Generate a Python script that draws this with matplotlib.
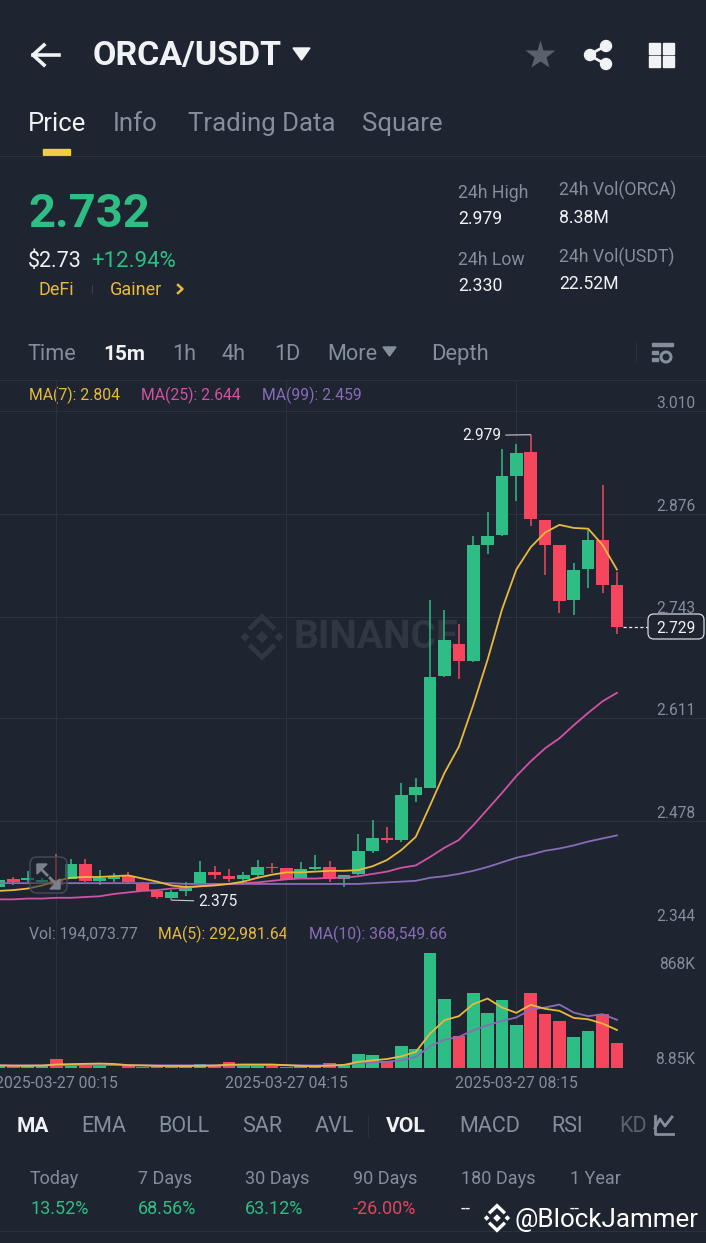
import numpy as np
import matplotlib
matplotlib.use('Agg')
import matplotlib.pyplot as plt
from matplotlib.patches import FancyBboxPatch, Rectangle, Circle

# candles, 15m
opens = [2.392, 2.402, 2.401, 2.399, 2.401, 2.403, 2.422, 2.400, 2.403, 2.406, 2.397, 2.387, 2.378, 2.387, 2.396,
         2.411, 2.406, 2.402, 2.407, 2.418, 2.417, 2.404, 2.415, 2.418, 2.403, 2.409, 2.439, 2.456, 2.453, 2.512,
         2.521, 2.666, 2.707, 2.685, 2.836, 2.849, 2.925, 2.956, 2.868, 2.836, 2.765, 2.805, 2.843, 2.784]
closes = [2.401, 2.398, 2.404, 2.401, 2.394, 2.422, 2.400, 2.404, 2.405, 2.398, 2.387, 2.379, 2.385, 2.393, 2.411,
          2.407, 2.402, 2.408, 2.418, 2.417, 2.403, 2.416, 2.418, 2.403, 2.407, 2.439, 2.455, 2.453, 2.511, 2.522,
          2.665, 2.713, 2.685, 2.836, 2.848, 2.926, 2.955, 2.870, 2.836, 2.763, 2.804, 2.842, 2.784, 2.729]
highs = [2.403, 2.405, 2.413, 2.404, 2.435, 2.429, 2.429, 2.414, 2.410, 2.412, 2.398, 2.388, 2.388, 2.399, 2.426,
         2.419, 2.415, 2.411, 2.427, 2.423, 2.417, 2.425, 2.433, 2.426, 2.408, 2.461, 2.479, 2.470, 2.527, 2.533,
         2.765, 2.752, 2.733, 2.848, 2.879, 2.961, 2.967, 2.979, 2.868, 2.836, 2.812, 2.855, 2.914, 2.801]
lows = [2.391, 2.394, 2.399, 2.397, 2.392, 2.402, 2.399, 2.394, 2.399, 2.397, 2.387, 2.376, 2.375, 2.380, 2.396,
        2.403, 2.399, 2.394, 2.405, 2.410, 2.401, 2.403, 2.414, 2.398, 2.392, 2.407, 2.436, 2.449, 2.451, 2.502,
        2.520, 2.665, 2.662, 2.684, 2.824, 2.847, 2.893, 2.861, 2.797, 2.748, 2.745, 2.780, 2.773, 2.721]
ma7 = [2.387, 2.388, 2.390, 2.394, 2.400, 2.404, 2.405, 2.405, 2.406, 2.407, 2.403, 2.399, 2.394, 2.392, 2.393,
       2.394, 2.396, 2.399, 2.404, 2.408, 2.411, 2.411, 2.412, 2.413, 2.413, 2.414, 2.419, 2.427, 2.440, 2.457,
       2.498, 2.540, 2.574, 2.628, 2.687, 2.752, 2.804, 2.833, 2.852, 2.862, 2.858, 2.857, 2.836, 2.804]
ma25 = [2.376, 2.376, 2.377, 2.377, 2.378, 2.378, 2.379, 2.380, 2.383, 2.385, 2.387, 2.388, 2.390, 2.391, 2.393,
        2.395, 2.396, 2.397, 2.398, 2.400, 2.402, 2.403, 2.403, 2.404, 2.404, 2.406, 2.409, 2.412, 2.417, 2.420,
        2.431, 2.443, 2.453, 2.472, 2.493, 2.514, 2.536, 2.555, 2.572, 2.585, 2.602, 2.618, 2.633, 2.644]
ma99 = [2.397, 2.397, 2.397, 2.397, 2.397, 2.397, 2.397, 2.397, 2.397, 2.397, 2.397, 2.397, 2.397, 2.396, 2.396,
        2.396, 2.396, 2.396, 2.396, 2.396, 2.396, 2.396, 2.396, 2.396, 2.396, 2.396, 2.397, 2.398, 2.399, 2.400,
        2.404, 2.406, 2.409, 2.413, 2.418, 2.424, 2.430, 2.434, 2.439, 2.442, 2.446, 2.451, 2.455, 2.459]

# volume in thousands
volumes = [29, 21, 24, 34, 74, 29, 31, 29, 12, 34, 16, 26, 16, 26, 41, 34, 51, 31, 31, 31, 14, 21, 21, 49, 34,
           111, 104, 59, 171, 151, 868, 528, 251, 571, 418, 516, 328, 571, 411, 361, 241, 283, 411, 194]
vol_ma5 = [28, 26, 26, 27, 35, 38, 40, 42, 39, 30, 28, 25, 24, 24, 25, 27, 33, 35, 35, 35, 30, 25, 22, 27, 32,
           54, 66, 76, 96, 129, 266, 366, 396, 486, 528, 461, 421, 481, 451, 436, 383, 373, 341, 293]
vol_ma10 = [29, 29, 29, 29, 30, 30, 31, 31, 31, 30, 29, 29, 29, 29, 29, 29, 29, 29, 30, 30, 30, 29, 28, 29, 29,
            46, 51, 56, 66, 91, 171, 221, 241, 291, 328, 361, 386, 446, 461, 483, 423, 396, 411, 369]

price_ticks = [3.010, 2.876, 2.743, 2.611, 2.478, 2.344]
time_ticks = [4, 20, 36]
time_labels = ['2025-03-27 00:15', '2025-03-27 04:15', '2025-03-27 08:15']
last_price = 2.729

BG = '#1e2530'
GRID = '#2b323c'
GRAY = '#848e9c'
WHITE = '#f0f2f5'
GREEN = '#2ebd85'
RED = '#f6465d'
YELLOW = '#e9b93e'
PINK = '#d252a4'
PURPLE = '#8a6bb8'

plt.rcParams['font.family'] = ['Roboto', 'DejaVu Sans']

W, H = 706, 1243
fig = plt.figure(figsize=(W / 100, H / 100), dpi=100, facecolor=BG)


def px_rect(left, top, right, bottom):
    return [left / W, 1 - bottom / H, (right - left) / W, (bottom - top) / H]


ui = fig.add_axes([0, 0, 1, 1], zorder=0)
ui.set_xlim(0, W)
ui.set_ylim(H, 0)
ui.axis('off')

ax = fig.add_axes(px_rect(0, 380, W, 924), zorder=1)
vol_ax = fig.add_axes(px_rect(0, 924, W, 1068), zorder=1, sharex=ax)

x = np.arange(len(closes))
colors = [GREEN if c >= o else RED for o, c in zip(opens, closes)]

for a in (ax, vol_ax):
    a.patch.set_alpha(0)
    a.set_xlim(0.07, 49.2)
    for s in a.spines.values():
        s.set_visible(False)
    a.set_axisbelow(True)

ax.set_ylim(2.344, 3.050)
ax.vlines(x, lows, highs, colors=colors, lw=1.1, zorder=3)
ax.bar(x, np.abs(np.array(closes) - np.array(opens)), bottom=np.minimum(opens, closes), width=0.88,
       color=colors, zorder=3)
ax.plot(x, ma99, color=PURPLE, lw=1.3, zorder=4)
ax.plot(x, ma25, color=PINK, lw=1.3, zorder=4)
ax.plot(x, ma7, color=YELLOW, lw=1.3, zorder=4)

ax.set_yticks(price_ticks)
ax.set_xticks(time_ticks)
ax.tick_params(length=0, labelleft=False, labelbottom=False)
ax.grid(True, color=GRID, lw=0.8)
for p in price_ticks:
    ax.annotate(f'{p:.3f}', xy=(0.985, p), xycoords=ax.get_yaxis_transform(), xytext=(0, 5.5),
                textcoords='offset points', ha='right', va='center', color=GRAY, fontsize=11.2)

# high / low labels
ax.annotate('2.979', xy=(37, max(highs)), xytext=(-21, -0.5), textcoords='offset points', ha='right', va='center',
            color=WHITE, fontsize=11.2, zorder=6,
            arrowprops=dict(arrowstyle='-', color='#c9ccd1', lw=0.8, shrinkA=1, shrinkB=0))
ax.annotate('2.375', xy=(12, min(lows)), xytext=(19, -1), textcoords='offset points', ha='left', va='center',
            color=WHITE, fontsize=11.2, zorder=6,
            arrowprops=dict(arrowstyle='-', color='#c9ccd1', lw=0.8, shrinkA=1, shrinkB=0))

# last price
ax.hlines(last_price, len(x) - 0.56, len(x) + 1.15, colors=WHITE, lw=0.9, linestyles=(0, (2.5, 2)), zorder=5)
ax.add_patch(FancyBboxPatch((648, 614), 56, 25, boxstyle='round,pad=0,rounding_size=6', transform=ui.transData,
                            fc=BG, ec='#d5d8dc', lw=0.9, zorder=7, clip_on=False))
ax.text(676, 628, f'{last_price:.3f}', transform=ui.transData, ha='center', va='center', color=WHITE,
        fontsize=11.2, zorder=8)

# expand button over the candles
ax.add_patch(FancyBboxPatch((30, 857), 37, 36, boxstyle='round,pad=0,rounding_size=7', transform=ui.transData,
                            fc=(0.118, 0.145, 0.188, 0.55), ec='#454c58', lw=1.0, zorder=7, clip_on=False))
ax.plot([38, 47], [866, 875], color='#7a818c', lw=2, transform=ui.transData, zorder=8)
ax.plot([50, 59], [878, 887], color='#7a818c', lw=2, transform=ui.transData, zorder=8)
ax.fill([37, 47, 37], [864, 864, 874], color='#7a818c', transform=ui.transData, zorder=8)
ax.fill([60, 50, 60], [889, 889, 879], color='#7a818c', transform=ui.transData, zorder=8)

# volume pane
vol_ax.set_ylim(8.85, 1085)
vol_ax.bar(x, np.array(volumes) - 8.85, bottom=8.85, width=0.88, color=colors, zorder=3)
vol_ax.plot(x, vol_ma10, color=PURPLE, lw=1.3, zorder=4)
vol_ax.plot(x, vol_ma5, color=YELLOW, lw=1.3, zorder=4)
vol_ax.set_xticks(time_ticks)
vol_ax.set_xticklabels(time_labels)
vol_ax.set_yticks([8.85])
vol_ax.tick_params(length=0, labelleft=False, labelcolor=GRAY, labelsize=11.3, pad=6)
vol_ax.grid(True, color=GRID, lw=0.8)
vol_ax.annotate('868K', xy=(0.985, 868), xycoords=vol_ax.get_yaxis_transform(), xytext=(0, -8),
                textcoords='offset points', ha='right', va='center', color=GRAY, fontsize=11.2)
vol_ax.annotate('8.85K', xy=(0.985, 8.85), xycoords=vol_ax.get_yaxis_transform(), xytext=(0, 6),
                textcoords='offset points', ha='right', va='center', color=GRAY, fontsize=11.2)


def label(px, py, s, size=11, color=GRAY, weight='normal', ha='left', zorder=2):
    ui.text(px, py + 1.5, s, fontsize=size, color=color, fontweight=weight, ha=ha, va='center', zorder=zorder)


def diamond(cx, cy, s, color, zorder):
    ui.fill([cx - s, cx, cx + s, cx], [cy, cy - s, cy, cy + s], color=color, zorder=zorder, lw=0)


def binance_logo(cx, cy, r, color, lw, zorder=1):
    diamond(cx, cy, r * 0.27, color, zorder)
    diamond(cx - r * 0.74, cy, r * 0.2, color, zorder)
    diamond(cx + r * 0.74, cy, r * 0.2, color, zorder)
    ui.plot([cx - r * 0.48, cx, cx + r * 0.48], [cy - r * 0.42, cy - r * 0.88, cy - r * 0.42],
            color=color, lw=lw, zorder=zorder, solid_joinstyle='miter')
    ui.plot([cx - r * 0.48, cx, cx + r * 0.48], [cy + r * 0.42, cy + r * 0.88, cy + r * 0.42],
            color=color, lw=lw, zorder=zorder, solid_joinstyle='miter')


# header
ui.plot([33, 59], [55, 55], color=WHITE, lw=2.6)
ui.plot([44, 33, 44], [45, 55, 65], color=WHITE, lw=2.6)
label(93, 54, 'ORCA/USDT', size=24.5, color=WHITE, weight='bold')
ui.fill([293, 310, 301.5], [48, 48, 60], color=WHITE)
ui.plot([540], [55], marker='*', ms=22, color='#59616d', mec='none')
ui.plot([607, 589, 607], [45, 55, 65], color=WHITE, lw=2)
for cx, cy in [(606, 46), (590, 55), (606, 64)]:
    ui.add_patch(Circle((cx, cy), 5.5, color=WHITE))
for cx, cy in [(649, 43), (663, 43), (649, 56), (663, 56)]:
    ui.add_patch(Rectangle((cx, cy), 11, 11, color=WHITE))

# tabs
label(28, 122, 'Price', size=18.5, color=WHITE)
label(113, 122, 'Info', size=18.5)
label(188, 122, 'Trading Data', size=18.5)
label(362, 122, 'Square', size=18.5)
ui.add_patch(Rectangle((43, 149), 27, 6, color='#f0cd45'))
ui.plot([0, W], [155.5, 155.5], color=GRID, lw=0.8)

# price summary
label(28, 212, '2.732', size=34, color=GREEN, weight='bold')
label(28, 260, '$2.73', size=15.5, color=WHITE)
label(91, 260, '+12.94%', size=16, color=GREEN)
label(38, 288, 'DeFi', size=13, color=YELLOW)
ui.plot([92, 92], [285, 293], color='#3a414c', lw=0.8)
label(110, 288, 'Gainer', size=13, color=YELLOW)
ui.plot([178, 182.5, 178], [285, 289, 293], color=YELLOW, lw=1.8)

label(458, 191, '24h High', size=12.7)
label(458, 217, '2.979', size=12.7, color=WHITE)
label(458, 258, '24h Low', size=12.7)
label(458, 284, '2.330', size=12.7, color=WHITE)
label(559, 189, '24h Vol(ORCA)', size=12.7)
label(559, 216, '8.38M', size=12.7, color=WHITE)
label(559, 256, '24h Vol(USDT)', size=12.7)
label(559, 282, '22.52M', size=12.7, color=WHITE)

# interval row
label(27, 353, 'Time', size=15.6)
label(103, 353, '15m', size=15, color=WHITE, weight='bold')
label(172, 353, '1h', size=15.6)
label(222, 353, '4h', size=15.6)
label(274, 353, '1D', size=15.6)
label(327, 353, 'More', size=15.6)
ui.fill([383, 396, 389.5], [347, 347, 356], color=GRAY)
label(431, 353, 'Depth', size=15.8)
ui.plot([636, 636], [342, 362], color=GRID, lw=0.8)
ui.add_patch(Rectangle((652, 343), 21, 3, color=GRAY))
ui.add_patch(Rectangle((652, 351), 6, 3, color=GRAY))
ui.add_patch(Rectangle((652, 358), 6, 3, color=GRAY))
ui.add_patch(Circle((666, 357), 5, fc='none', ec=GRAY, lw=2.2))
ui.plot([0, W], [380, 380], color=GRID, lw=0.8)

# chart legends
label(29, 394, 'MA(7): 2.804', size=11.3, color=YELLOW)
label(141, 394, 'MA(25): 2.644', size=11.3, color=PINK)
label(262, 394, 'MA(99): 2.459', size=11.3, color=PURPLE)
label(29, 933, 'Vol: 194,073.77', size=11.3)
label(158, 933, 'MA(5): 292,981.64', size=11.3, color=YELLOW)
label(309, 933, 'MA(10): 368,549.66', size=11.3, color=PURPLE)

# watermark behind the candles
binance_logo(262, 637, 23, '#303742', 3.5)
label(293, 636, 'BINANCE', size=28, color='#303742', weight='bold', zorder=1)

# indicator row
label(17, 1125, 'MA', size=15, color=WHITE, weight='bold')
label(81, 1125, 'EMA', size=15.5)
label(158, 1125, 'BOLL', size=15.5)
label(242, 1125, 'SAR', size=15.5)
label(315, 1125, 'AVL', size=15.5)
ui.plot([368, 368], [1115, 1137], color=GRID, lw=0.8)
label(386, 1125, 'VOL', size=15.2, color=WHITE, weight='bold')
label(459, 1125, 'MACD', size=15.5)
label(551, 1125, 'RSI', size=15.5)
label(619, 1125, 'KD', size=15.5, color='#5a626e')
ui.add_patch(Rectangle((650, 1115), 24, 20, color=BG, zorder=3))
ui.plot([655, 655, 673], [1116, 1134, 1134], color=GRAY, lw=2, zorder=4)
ui.plot([655, 660, 665, 672], [1128, 1119, 1126, 1117], color=GRAY, lw=2, zorder=4)

# returns
for px, name in zip([30, 138, 245, 353, 461, 570],
                    ['Today', '7 Days', '30 Days', '90 Days', '180 Days', '1 Year']):
    label(px, 1178, name, size=13)
label(30, 1207, '13.52%', size=13, color=GREEN)
label(138, 1207, '68.56%', size=13, color=GREEN)
label(245, 1207, '63.12%', size=13, color=GREEN)
label(353, 1207, '-26.00%', size=13, color='#e0455a')
label(461, 1207, '--', size=13, color=WHITE)
label(570, 1207, '--', size=13, color=WHITE)
ui.plot([0, W], [1231, 1231], color=GRID, lw=0.8)

# repost watermark
binance_logo(497, 1218, 14, '#ffffff', 2.4, zorder=5)
label(515, 1218, '@BlockJammer', size=18.7, color='#ffffff', zorder=5)

fig.savefig('out.png', dpi=100, facecolor=BG)
